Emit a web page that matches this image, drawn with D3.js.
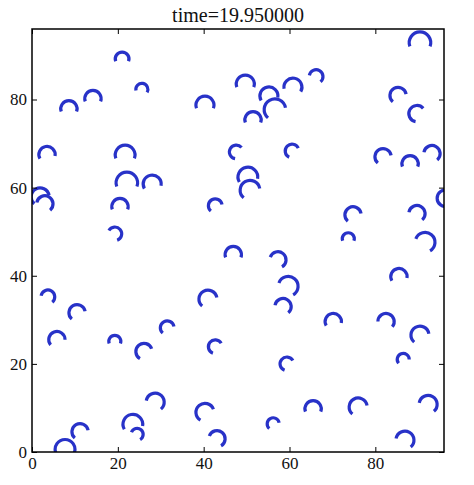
<!DOCTYPE html>
<html>
<head>
<meta charset="utf-8">
<script src="https://cdn.jsdelivr.net/npm/d3@7"></script>
<style>
  body { margin: 0; background: #fff; }
  text { font-family: "Liberation Serif", "DejaVu Serif", serif; fill: #111; }
</style>
</head>
<body>
<svg id="chart" width="474" height="485"></svg>
<script>
// ---- data ----
const titleText = "time=19.950000";
const xTicks = [0, 20, 40, 60, 80];
const yTicks = [0, 20, 40, 60, 80];
const xDomain = [0, 96];
const yDomain = [0, 96];
// arc centres (data units)
const px = [21.0, 90.4, 25.6, 14.2, 8.6, 40.3, 49.7, 55.2, 56.6, 60.8, 66.2, 51.5, 85.3, 89.7,
  3.5, 21.7, 47.6, 60.6, 22.1, 28.0, 50.3, 81.8, 88.1, 93.2, 1.9, 3.0, 20.5, 42.7, 50.8,
  19.3, 74.8, 73.7, 89.7, 91.6, 96.3, 46.9, 57.3, 85.5, 59.7, 58.5, 3.7, 10.5, 41.0, 31.5,
  70.2, 82.5, 90.4, 5.8, 19.3, 26.1, 42.7, 59.4, 86.5, 28.7, 40.3, 23.5, 24.5, 11.2, 7.7,
  43.1, 56.2, 65.5, 76.0, 92.3, 86.9, 10.3];
const py = [89.2, 92.9, 82.3, 80.2, 77.9, 78.7, 83.5, 80.8, 77.7, 82.8, 85.2, 75.4, 80.9, 76.8,
  67.5, 67.4, 68.1, 68.3, 61.1, 60.8, 62.4, 67.0, 65.4, 67.7, 57.9, 56.3, 55.7, 55.9, 59.4,
  49.5, 53.8, 48.4, 54.1, 47.6, 57.6, 44.8, 43.6, 39.8, 37.6, 33.0, 35.2, 31.6, 34.7, 28.2,
  29.6, 29.6, 26.5, 25.5, 25.1, 22.8, 23.9, 20.0, 21.0, 11.3, 9.0, 6.3, 4.0, 4.6, 0.6,
  3.0, 6.4, 9.8, 10.2, 10.8, 2.7, 98.3];
// arc radius (data units)
const pr = [1.6, 2.5, 1.4, 1.9, 1.9, 2.1, 2.1, 2.1, 2.5, 2.1, 1.6, 1.9, 1.9, 1.9,
  1.9, 2.3, 1.6, 1.6, 2.5, 2.1, 2.3, 1.9, 1.9, 1.9, 2.1, 1.9, 1.9, 1.6, 2.3,
  1.6, 1.9, 1.4, 1.9, 2.3, 1.9, 1.9, 1.9, 1.9, 2.3, 1.9, 1.6, 1.9, 2.1, 1.6,
  1.9, 1.9, 2.1, 1.9, 1.4, 1.9, 1.6, 1.6, 1.4, 2.1, 2.1, 2.3, 1.4, 1.9, 2.3,
  1.9, 1.4, 1.9, 2.1, 2.1, 2.1, 1.9];
// direction of the arc's opening (degrees, 0 = +x, 90 = +y)
const pdir = [-90, -90, -100, -90, -90, -90, -90, -80, -60, -100, -120, -90, -60, -30,
  -80, -90, -30, -45, -90, -80, -80, -60, -90, -120, -60, -120, -90, -60, -60,
  -140, -60, -90, -120, -130, 0, -90, -130, -80, -130, -120, -120, -60, -60, -60,
  -80, -110, -60, -70, -90, -50, -40, -40, -70, -120, -50, -80, -130, -60, -90,
  -130, -60, -90, -60, -120, -120, -90];
const gapDeg = 140;

// ---- layout ----
const svg = d3.select("#chart");
const m = { left: 32, top: 29, width: 412, height: 423 };
const x = d3.scaleLinear().domain(xDomain).range([m.left, m.left + m.width]);
const y = d3.scaleLinear().domain(yDomain).range([m.top + m.height, m.top]);

svg.append("defs").append("clipPath").attr("id", "clip")
  .append("rect").attr("x", m.left).attr("y", m.top)
  .attr("width", m.width).attr("height", m.height);

const data = px.map((v, i) => ({ x: v, y: py[i], r: pr[i], dir: pdir[i] }));
const rad = Math.PI / 180;
function arcPath(d) {
  const cx = x(d.x), cy = y(d.y), r = x(d.r) - x(0);
  const p = d3.path();
  const a0 = -(d.dir + gapDeg / 2) * rad;
  const a1 = -(d.dir + 360 - gapDeg / 2) * rad;
  p.arc(cx, cy, r, a0, a1, true);
  return p.toString();
}

svg.append("g").attr("clip-path", "url(#clip)")
  .selectAll("path").data(data).join("path")
  .attr("d", arcPath)
  .attr("fill", "none")
  .attr("stroke", "#2832c8")
  .attr("stroke-width", 3.2);

// ---- axes ----
const fs = 17;
const gx = svg.append("g").attr("transform", `translate(0,${m.top + m.height})`)
  .call(d3.axisBottom(x).tickValues(xTicks).tickSizeInner(-5).tickSizeOuter(0).tickPadding(5).tickFormat(d3.format("d")));
const gxt = svg.append("g").attr("transform", `translate(0,${m.top})`)
  .call(d3.axisTop(x).tickValues(xTicks).tickSizeInner(-5).tickSizeOuter(0).tickFormat(""));
const gy = svg.append("g").attr("transform", `translate(${m.left},0)`)
  .call(d3.axisLeft(y).tickValues(yTicks).tickSizeInner(-5).tickSizeOuter(0).tickPadding(5).tickFormat(d3.format("d")));
const gyr = svg.append("g").attr("transform", `translate(${m.left + m.width},0)`)
  .call(d3.axisRight(y).tickValues(yTicks).tickSizeInner(-5).tickSizeOuter(0).tickFormat(""));
[gx, gxt, gy, gyr].forEach(g => {
  g.select(".domain").remove();
  g.selectAll("line").attr("stroke", "#000").attr("stroke-width", 1);
  g.selectAll("text").style("font-family", '"Liberation Serif", serif').style("font-size", fs + "px").attr("fill", "#222");
});

svg.append("rect").attr("x", m.left).attr("y", m.top)
  .attr("width", m.width).attr("height", m.height)
  .attr("fill", "none").attr("stroke", "#000").attr("stroke-width", 1.5);

svg.append("text").attr("x", m.left + m.width / 2).attr("y", 22)
  .attr("text-anchor", "middle").style("font-size", "20px").text(titleText);
</script>
</body>
</html>
